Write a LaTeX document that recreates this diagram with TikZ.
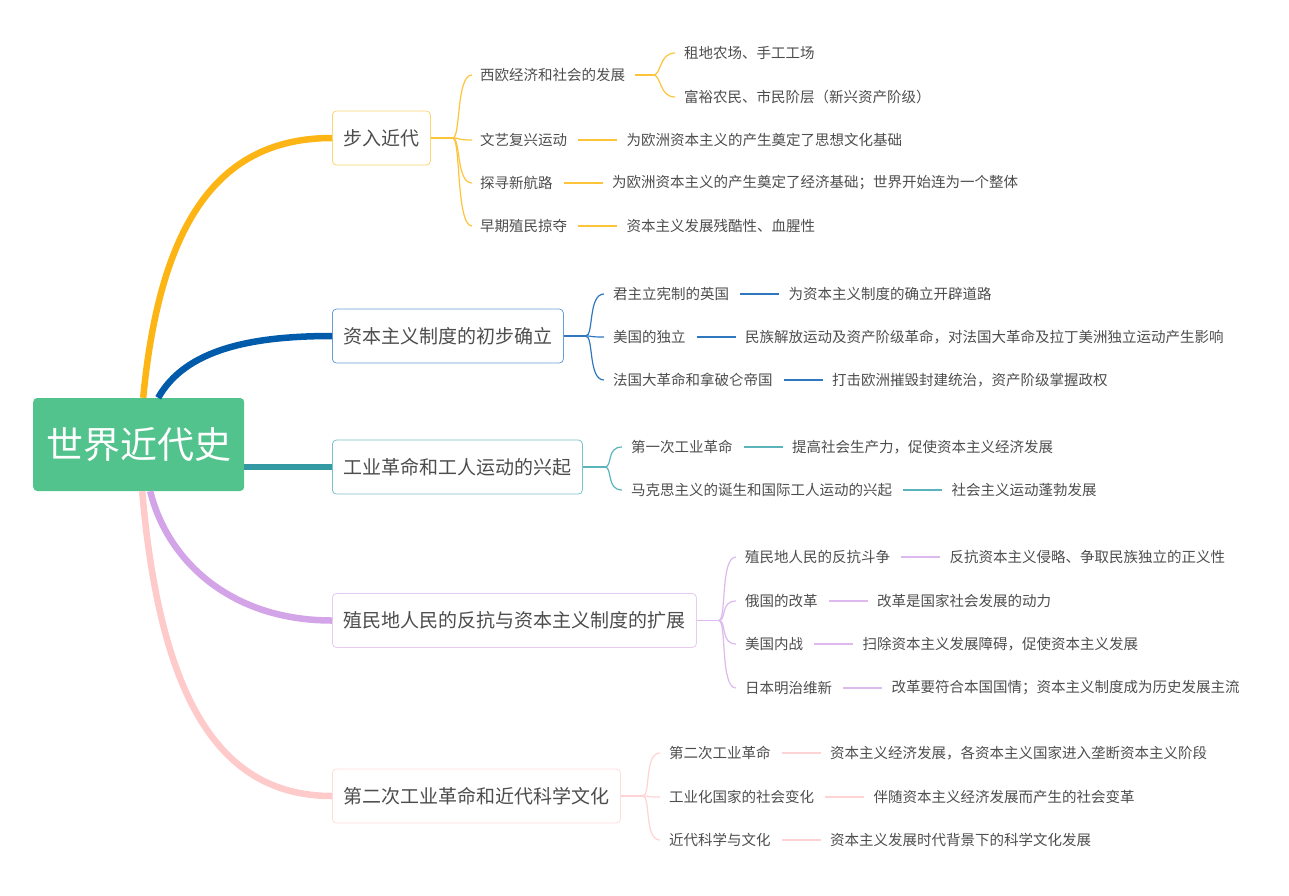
\documentclass[tikz,border=0pt]{standalone}
\usepackage{fontspec}
\setmainfont{Noto Sans CJK SC}
\usetikzlibrary{positioning}
\definecolor{rootgreen}{HTML}{52C38C}
\definecolor{inkgray}{HTML}{4D4D4D}
\definecolor{yelmain}{HTML}{FDB515}
\definecolor{yelline}{HTML}{FDC43A}
\definecolor{yelframe}{HTML}{FDD573}
\definecolor{bluemain}{HTML}{005CAB}
\definecolor{blueline}{HTML}{2F78BD}
\definecolor{blueframe}{HTML}{6A9FD3}
\definecolor{tealmain}{HTML}{339AA4}
\definecolor{tealline}{HTML}{5BB3BC}
\definecolor{tealframe}{HTML}{7CC2CA}
\definecolor{lilacmain}{HTML}{D3A5E8}
\definecolor{lilacline}{HTML}{DDB9EE}
\definecolor{lilacframe}{HTML}{E6CBF3}
\definecolor{pinkmain}{HTML}{FFCACA}
\definecolor{pinkline}{HTML}{FFD3D3}
\definecolor{pinkframe}{HTML}{FFDCDC}
\begin{document}
\begin{tikzpicture}[
    x=1pt,y=-1pt,
    node distance=59pt,
    root/.style={fill=rootgreen,text=white,rounded corners=4pt,minimum height=93pt,inner xsep=13pt,anchor=west,font=\fontsize{37}{40}\selectfont},
    topic/.style={draw=#1,fill=white,rounded corners=4pt,line width=0.8pt,minimum height=54pt,inner xsep=11pt,anchor=west,text=inkgray,font=\fontsize{19}{22}\selectfont},
    leaf/.style={inner sep=0pt,anchor=west,text=inkgray,font=\fontsize{14.5}{17}\selectfont},
    trunk/.style={line width=6.5pt,draw=#1},
    twig/.style={line width=1.2pt,draw=#1},
    bracket/.style={to path={.. controls +(8,0) and +(-16,0) .. (\tikztotarget)}},
    tie/.style={twig=#1,shorten <=11pt,shorten >=9pt}
    ]
    \useasboundingbox (0,0) rectangle (1289,895);
    % centre and main topics
    \node[root] (root) at (33,444.5) {世界近代史};
    \node[topic=yelframe] (t1) at (332,138) {步入近代};
    \node[topic=blueframe] (t2) at (332,336) {资本主义制度的初步确立};
    \node[topic=tealframe] (t3) at (332,467) {工业革命和工人运动的兴起};
    \node[topic=lilacframe] (t4) at (332,620.5) {殖民地人民的反抗与资本主义制度的扩展};
    \node[topic=pinkframe] (t5) at (332,796) {第二次工业革命和近代科学文化};
    \draw[trunk=yelmain] ([xshift=4.5pt]root.north) .. controls +(17,-178) and +(-112,0) .. (t1.west);
    \draw[trunk=bluemain] ([xshift=19.5pt]root.north) .. controls +(27,-48) and +(-82,0) .. (t2.west);
    \draw[trunk=tealmain] (root.east |- t3.west) -- (t3.west);
    \draw[trunk=lilacmain] ([xshift=11.5pt]root.south) .. controls +(17,69) and +(-102,0) .. (t4.west);
    \draw[trunk=pinkmain] ([xshift=3.5pt]root.south) .. controls +(18,209) and +(-112,0) .. (t5.west);

    % 步入近代
    \node[leaf] (c11) at (480,75) {西欧经济和社会的发展};
    \node[leaf] (c12) at (480,140) {文艺复兴运动};
    \node[leaf] (c13) at (480,183) {探寻新航路};
    \node[leaf] (c14) at (480,226) {早期殖民掠夺};
    \node[leaf] (g11) at (684,53) {租地农场、手工工场};
    \node[leaf] (g12) at (684,97) {富裕农民、市民阶层（新兴资产阶级）};
    \node[leaf] (d12) [right=of c12] {为欧洲资本主义的产生奠定了思想文化基础};
    \node[leaf] (d13) [right=of c13] {为欧洲资本主义的产生奠定了经济基础；世界开始连为一个整体};
    \node[leaf] (d14) [right=of c14] {资本主义发展残酷性、血腥性};
    \draw[twig=yelline] (t1.east) -- ++(22,0) coordinate (k1);
    \draw[twig=yelline] (k1) to[bracket] ([xshift=-8pt]c11.west);
    \draw[twig=yelline] (k1) to[bracket] ([xshift=-8pt]c12.west);
    \draw[twig=yelline] (k1) to[bracket] ([xshift=-8pt]c13.west);
    \draw[twig=yelline] (k1) to[bracket] ([xshift=-8pt]c14.west);
    \draw[twig=yelline] ([xshift=10pt]c11.east) -- ++(18,0) coordinate (k11);
    \draw[twig=yelline] (k11) to[bracket] ([xshift=-9pt]g11.west);
    \draw[twig=yelline] (k11) to[bracket] ([xshift=-9pt]g12.west);
    \draw[tie=yelline] (c12) -- (d12);
    \draw[tie=yelline] (c13) -- (d13);
    \draw[tie=yelline] (c14) -- (d14);

    % 资本主义制度的初步确立
    \node[leaf] (c21) at (613,294) {君主立宪制的英国};
    \node[leaf] (c22) at (613,337) {美国的独立};
    \node[leaf] (c23) at (613,380) {法国大革命和拿破仑帝国};
    \node[leaf] (d21) [right=of c21] {为资本主义制度的确立开辟道路};
    \node[leaf] (d22) [right=of c22] {民族解放运动及资产阶级革命，对法国大革命及拉丁美洲独立运动产生影响};
    \node[leaf] (d23) [right=of c23] {打击欧洲摧毁封建统治，资产阶级掌握政权};
    \draw[twig=blueline] (t2.east) -- ++(22,0) coordinate (k2);
    \draw[twig=blueline] (k2) to[bracket] ([xshift=-9pt]c21.west);
    \draw[twig=blueline] (k2) to[bracket] ([xshift=-9pt]c22.west);
    \draw[twig=blueline] (k2) to[bracket] ([xshift=-9pt]c23.west);
    \draw[tie=blueline] (c21) -- (d21);
    \draw[tie=blueline] (c22) -- (d22);
    \draw[tie=blueline] (c23) -- (d23);

    % 工业革命和工人运动的兴起
    \node[leaf] (c31) at (631,447) {第一次工业革命};
    \node[leaf] (c32) at (631,490) {马克思主义的诞生和国际工人运动的兴起};
    \node[leaf] (d31) [right=of c31] {提高社会生产力，促使资本主义经济发展};
    \node[leaf] (d32) [right=of c32] {社会主义运动蓬勃发展};
    \draw[twig=tealline] (t3.east) -- ++(22,0) coordinate (k3);
    \draw[twig=tealline] (k3) to[bracket] ([xshift=-9pt]c31.west);
    \draw[twig=tealline] (k3) to[bracket] ([xshift=-9pt]c32.west);
    \draw[tie=tealline] (c31) -- (d31);
    \draw[tie=tealline] (c32) -- (d32);

    % 殖民地人民的反抗与资本主义制度的扩展
    \node[leaf] (c41) at (745,557) {殖民地人民的反抗斗争};
    \node[leaf] (c42) at (745,601) {俄国的改革};
    \node[leaf] (c43) at (745,644) {美国内战};
    \node[leaf] (c44) at (745,688) {日本明治维新};
    \node[leaf] (d41) [right=of c41] {反抗资本主义侵略、争取民族独立的正义性};
    \node[leaf] (d42) [right=of c42] {改革是国家社会发展的动力};
    \node[leaf] (d43) [right=of c43] {扫除资本主义发展障碍，促使资本主义发展};
    \node[leaf] (d44) [right=of c44] {改革要符合本国国情；资本主义制度成为历史发展主流};
    \draw[twig=lilacline] (t4.east) -- ++(22,0) coordinate (k4);
    \draw[twig=lilacline] (k4) to[bracket] ([xshift=-9pt]c41.west);
    \draw[twig=lilacline] (k4) to[bracket] ([xshift=-9pt]c42.west);
    \draw[twig=lilacline] (k4) to[bracket] ([xshift=-9pt]c43.west);
    \draw[twig=lilacline] (k4) to[bracket] ([xshift=-9pt]c44.west);
    \draw[tie=lilacline] (c41) -- (d41);
    \draw[tie=lilacline] (c42) -- (d42);
    \draw[tie=lilacline] (c43) -- (d43);
    \draw[tie=lilacline] (c44) -- (d44);

    % 第二次工业革命和近代科学文化
    \node[leaf] (c51) at (669,753) {第二次工业革命};
    \node[leaf] (c52) at (669,797) {工业化国家的社会变化};
    \node[leaf] (c53) at (669,840) {近代科学与文化};
    \node[leaf] (d51) [right=of c51] {资本主义经济发展，各资本主义国家进入垄断资本主义阶段};
    \node[leaf] (d52) [right=of c52] {伴随资本主义经济发展而产生的社会变革};
    \node[leaf] (d53) [right=of c53] {资本主义发展时代背景下的科学文化发展};
    \draw[twig=pinkline] (t5.east) -- ++(22,0) coordinate (k5);
    \draw[twig=pinkline] (k5) to[bracket] ([xshift=-9pt]c51.west);
    \draw[twig=pinkline] (k5) to[bracket] ([xshift=-9pt]c52.west);
    \draw[twig=pinkline] (k5) to[bracket] ([xshift=-9pt]c53.west);
    \draw[tie=pinkline] (c51) -- (d51);
    \draw[tie=pinkline] (c52) -- (d52);
    \draw[tie=pinkline] (c53) -- (d53);
\end{tikzpicture}
\end{document}
